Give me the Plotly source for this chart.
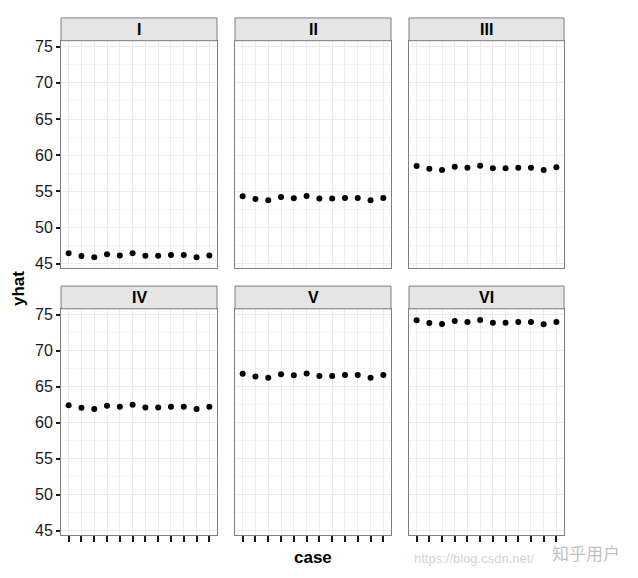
import plotly.graph_objects as go

# 12 cases in each of 6 facets
cases = list(range(1, 13))
panels = ["I", "II", "III", "IV", "V", "VI"]

yhat_I = [46.45, 46.05, 45.9, 46.3, 46.14, 46.45, 46.1, 46.1, 46.2, 46.2, 45.9, 46.14]
yhat_II = [54.32, 53.95, 53.77, 54.23, 54.05, 54.36, 54.0, 54.0, 54.09, 54.09, 53.77, 54.09]
yhat_III = [58.5, 58.14, 57.95, 58.41, 58.27, 58.55, 58.18, 58.18, 58.27, 58.27, 57.95, 58.32]
yhat_IV = [62.45, 62.09, 61.91, 62.36, 62.23, 62.5, 62.14, 62.14, 62.23, 62.23, 61.91, 62.23]
yhat_V = [66.82, 66.45, 66.27, 66.73, 66.59, 66.86, 66.5, 66.5, 66.64, 66.64, 66.27, 66.64]
yhat_VI = [74.23, 73.86, 73.73, 74.14, 74.0, 74.27, 73.9, 73.9, 74.0, 74.0, 73.68, 74.0]

y_ticks = [45, 50, 55, 60, 65, 70, 75]

series = [yhat_I, yhat_II, yhat_III, yhat_IV, yhat_V, yhat_VI]

# page body has an 8px margin, so the figure is drawn 8px in from the window corner
OFF = 8
W, H = 638 - OFF, 578 - OFF
FONT = "Liberation Sans, Arial, sans-serif"

# panel pixel boxes in window coords: (left, right) per column, (top, bottom) per row
cols_px = [(61, 217), (235, 391), (409, 564)]
rows_px = [(39, 269), (310, 539)]
STRIP_H = 23


def px_x(v):
    return (v - OFF) / W


def px_y(v):
    return 1 - (v - OFF) / H


fig = go.Figure()
shapes = []
annotations = []

for i, (name, vals) in enumerate(zip(panels, series)):
    r, c = divmod(i, 3)
    n = i + 1
    xa = "xaxis" if n == 1 else f"xaxis{n}"
    ya = "yaxis" if n == 1 else f"yaxis{n}"
    xref = "x" if n == 1 else f"x{n}"
    yref = "y" if n == 1 else f"y{n}"
    x0, x1 = cols_px[c]
    top, bot = rows_px[r]

    fig.add_trace(go.Scatter(
        x=cases, y=vals, mode="markers",
        marker=dict(color="black", size=6),
        xaxis=xref, yaxis=yref, showlegend=False,
        hovertemplate=f"<b>{name}</b><br>case: %{{x}}<br>yhat: %{{y}}<extra></extra>",
    ))

    fig.layout[xa] = dict(
        domain=[px_x(x0), px_x(x1)], anchor=yref,
        range=[0.4, 12.6], tickvals=cases, showticklabels=False,
        ticks="outside" if r == 1 else "", ticklen=6, tickwidth=2, tickcolor="#1a1a1a",
        showgrid=True, gridcolor="#EBEBEB", gridwidth=1, zeroline=False,
        showline=True, mirror=True, linecolor="#7F7F7F", linewidth=1,
    )
    fig.layout[ya] = dict(
        domain=[px_y(bot), px_y(top)], anchor=xref,
        range=[44.37, 75.83], tickvals=y_ticks, showticklabels=(c == 0),
        ticks="outside" if c == 0 else "", ticklen=4, tickwidth=2, tickcolor="#1a1a1a",
        tickfont=dict(size=16, color="#1a1a1a", family=FONT),
        showgrid=True, gridcolor="#EBEBEB", gridwidth=1, zeroline=False,
        minor=dict(tickvals=[47.5, 52.5, 57.5, 62.5, 67.5, 72.5], showgrid=True,
                   gridcolor="#F7F7F7", gridwidth=1),
        showline=True, mirror=True, linecolor="#7F7F7F", linewidth=1,
    )

    # facet strip
    shapes.append(dict(
        type="rect", xref="paper", yref="paper",
        x0=px_x(x0), x1=px_x(x1), y0=px_y(top), y1=px_y(top - STRIP_H),
        fillcolor="#E5E5E5", line=dict(color="#7F7F7F", width=1), layer="above",
    ))
    annotations.append(dict(
        xref="paper", yref="paper", x=px_x((x0 + x1) / 2), y=px_y(top - STRIP_H / 2),
        text=f"<b>{name}</b>", showarrow=False, xanchor="center", yanchor="middle",
        font=dict(size=16, color="black", family=FONT),
    ))

annotations += [
    dict(xref="paper", yref="paper", x=px_x(18), y=px_y(290), text="<b>yhat</b>",
         textangle=-90, showarrow=False, xanchor="center", yanchor="middle",
         font=dict(size=17, color="black", family=FONT)),
    dict(xref="paper", yref="paper", x=px_x(313), y=px_y(561), text="<b>case</b>",
         showarrow=False, xanchor="center", yanchor="middle",
         font=dict(size=17, color="black", family=FONT)),
    # faint watermark
    dict(xref="paper", yref="paper", x=px_x(536), y=px_y(562),
         text="https://blog.csdn.net/", showarrow=False, xanchor="right",
         yanchor="middle", font=dict(size=13, color="rgba(180,180,180,0.6)", family=FONT)),
    dict(xref="paper", yref="paper", x=px_x(622), y=px_y(556), text="知乎用户",
         showarrow=False, xanchor="right", yanchor="middle",
         font=dict(size=17, color="rgba(170,170,170,0.75)", family="Noto Sans CJK SC")),
]

fig.update_layout(
    width=W, height=H,
    margin=dict(l=0, r=0, t=0, b=0),
    plot_bgcolor="white", paper_bgcolor="white",
    font=dict(family=FONT, color="black"),
    shapes=shapes, annotations=annotations,
)

fig.write_html("out.html")
